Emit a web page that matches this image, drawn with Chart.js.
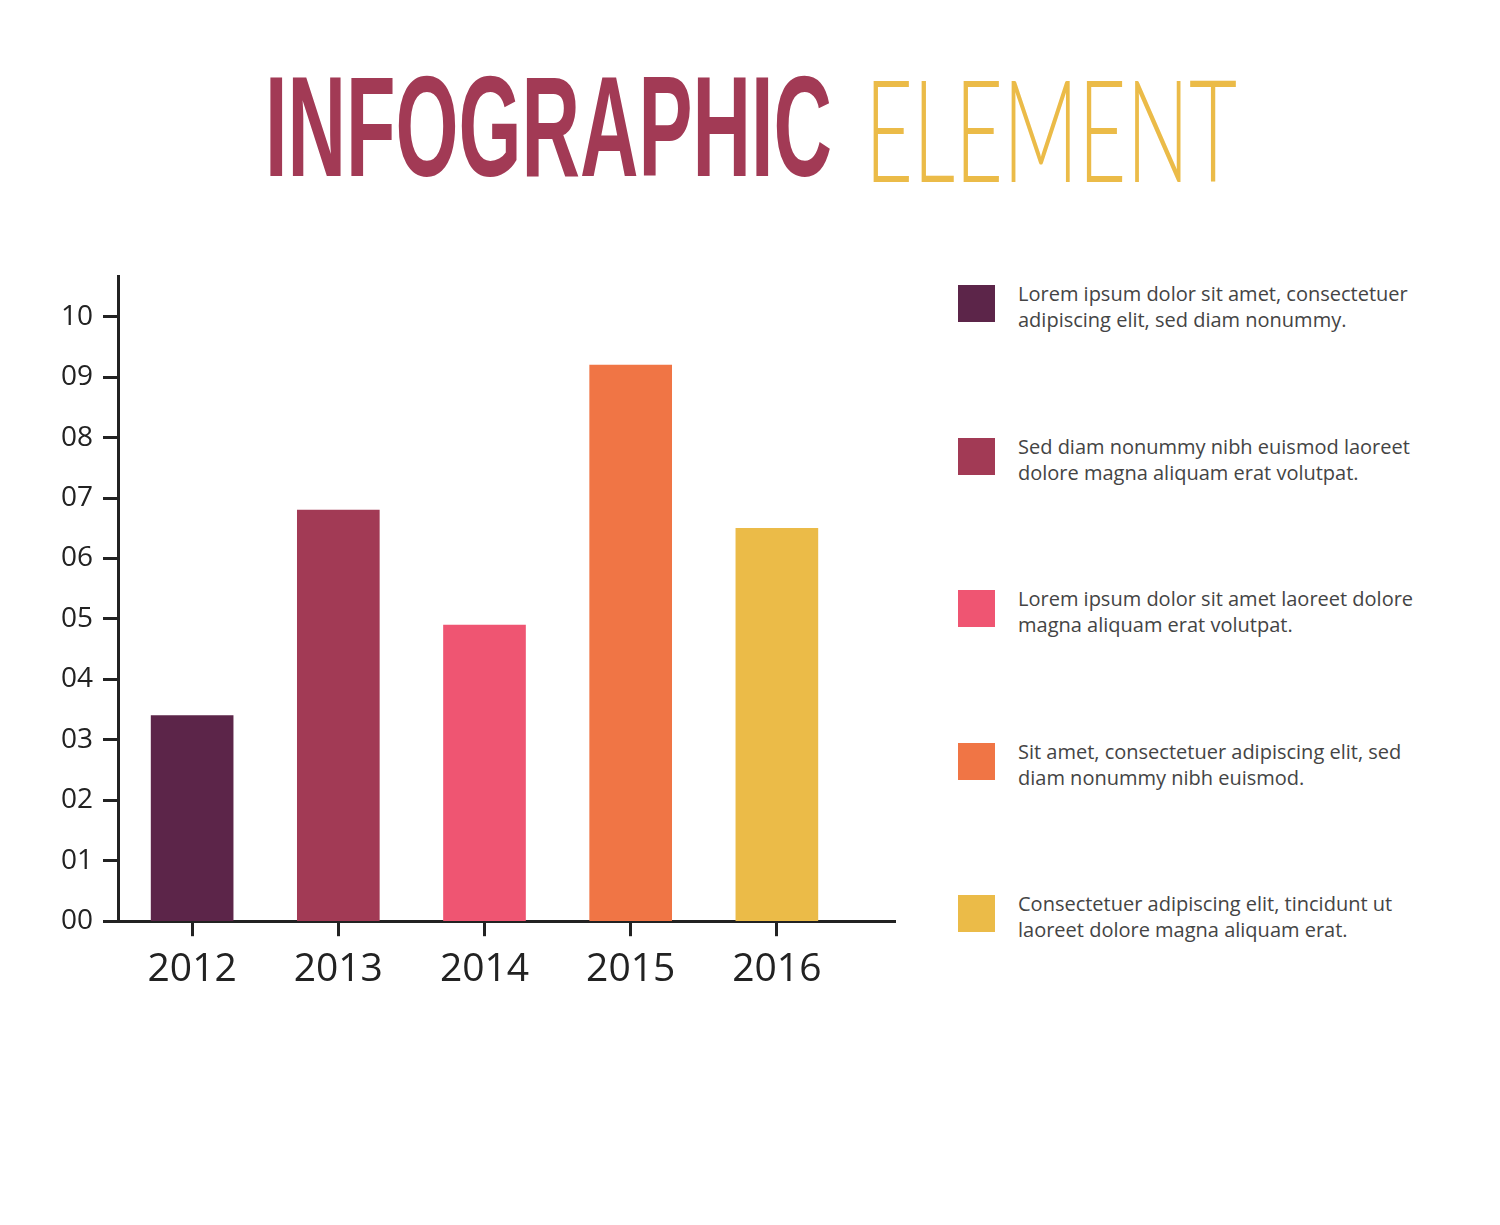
<!DOCTYPE html>
<html><head><meta charset="utf-8">
<script src="https://cdn.jsdelivr.net/npm/chart.js@4"></script>
<style>
body{margin:0;width:1500px;height:1225px;background:#fff;position:relative;overflow:hidden;font-family:"Open Sans",sans-serif}
.t{position:absolute;top:52px;white-space:nowrap;font-size:143px;line-height:150px;transform-origin:left center;display:inline-block}
#ta{left:265px;font-family:"Liberation Sans",sans-serif;font-weight:bold;color:#a23a55}
#tb{left:865px;font-family:"Lato",sans-serif;font-weight:300;color:#ebbb48}
#wrap{position:absolute;left:51px;top:250px;width:845px;height:753px}
.leg{position:absolute;left:958px;font-size:20px;line-height:26px;color:#444}
.leg i{position:absolute;left:0;top:0;width:37px;height:37px}
.leg span{position:absolute;left:60px;top:-4px;width:440px}
</style></head><body>
<span class="t" id="ta">INFOGRAPHIC</span><span class="t" id="tb">ELEMENT</span>
<div id="wrap"><canvas id="c"></canvas></div>
<div id="legend"></div>
<script>
const years=["2012","2013","2014","2015","2016"];
const values=[3.4,6.8,4.9,9.2,6.5];
const colors=["#5c2549","#a23a55","#ef5572","#f07545","#ebbb48"];
const legendTexts=[
["Lorem ipsum dolor sit amet, consectetuer","adipiscing elit, sed diam nonummy."],
["Sed diam nonummy nibh euismod laoreet","dolore magna aliquam erat volutpat."],
["Lorem ipsum dolor sit amet laoreet dolore","magna aliquam erat volutpat."],
["Sit amet, consectetuer adipiscing elit, sed","diam nonummy nibh euismod."],
["Consectetuer adipiscing elit, tincidunt ut","laoreet dolore magna aliquam erat."]];
[["ta",567],["tb",372]].forEach(([id,w])=>{const e=document.getElementById(id);e.style.transform='scaleX('+(w/e.getBoundingClientRect().width)+')';});
const lg=document.getElementById('legend');
legendTexts.forEach((t,i)=>{const d=document.createElement('div');d.className='leg';d.style.top=(285+i*152.5)+'px';
d.innerHTML='<i style="background:'+colors[i]+'"></i><span>'+t.join('<br>')+'</span>';lg.appendChild(d);});
new Chart(document.getElementById('c'),{type:'bar',
data:{datasets:[{data:values.map((v,i)=>({x:i,y:v})),backgroundColor:colors,barThickness:82}]},
options:{responsive:true,maintainAspectRatio:false,animation:false,
layout:{padding:{top:10,right:0}},
plugins:{legend:{display:false},tooltip:{enabled:false}},
scales:{
x:{type:'linear',offset:false,min:-0.507,max:4.815,afterBuildTicks:s=>{s.ticks=years.map((y,i)=>({value:i}));},
grid:{offset:false,drawOnChartArea:false,tickLength:15,tickColor:'#222',tickWidth:3},border:{color:'#222',width:3},
ticks:{callback:v=>years[v],color:'#222',font:{family:'Open Sans',size:39},padding:10}},
y:{min:0,max:10.66,afterBuildTicks:s=>{s.ticks=[0,1,2,3,4,5,6,7,8,9,10].map(v=>({value:v}));},
grid:{drawOnChartArea:false,tickLength:15,tickColor:'#222',tickWidth:3},border:{color:'#222',width:3},
ticks:{callback:v=>String(v).padStart(2,'0'),color:'#222',font:{family:'Open Sans',size:28},padding:10}}
}}});
</script></body></html>
